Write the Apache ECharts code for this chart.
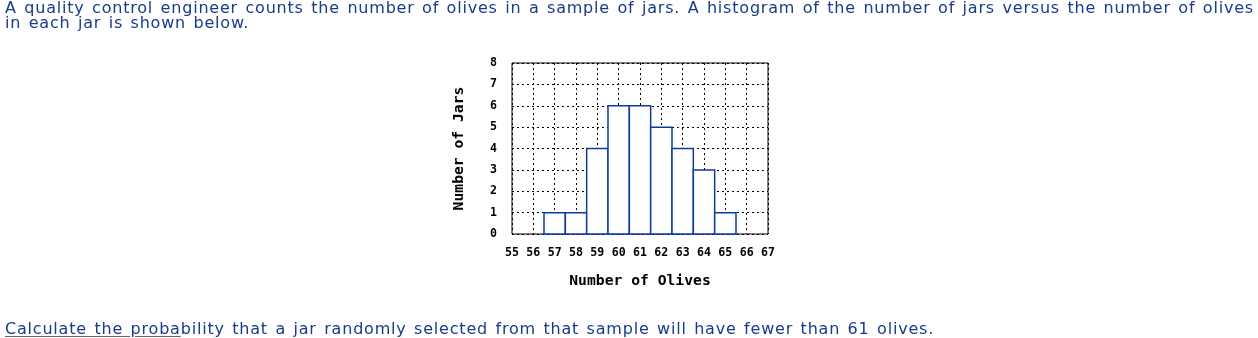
<!DOCTYPE html>
<html><head><meta charset="utf-8">
<script src="https://cdn.jsdelivr.net/npm/echarts@6/dist/echarts.min.js"></script>
<style>
html,body{margin:0;padding:0;background:#fff;}
#wrap{position:relative;width:1258px;height:338px;overflow:hidden;}
#c{position:absolute;left:0;top:0;width:1258px;height:338px;}
.txt{position:absolute;left:5px;font-family:"DejaVu Sans",sans-serif;font-size:16px;line-height:15px;color:#1a3a8a;letter-spacing:0.8px;word-spacing:1.6px;white-space:nowrap;}
#intro{top:0;}
#question{top:321px;}
#question .lnk{text-decoration:underline;text-decoration-color:#666;text-underline-offset:2px;}
</style>
</head><body><div id="wrap"><div id="c"></div><div id="intro" class="txt"></div><div id="question" class="txt"></div></div>
<script>
const olives = [57, 58, 59, 60, 61, 62, 63, 64, 65];
const jars = [1, 1, 4, 6, 6, 5, 4, 3, 1];
const xTicks = [55, 56, 57, 58, 59, 60, 61, 62, 63, 64, 65, 66, 67];
const yTicks = [0, 1, 2, 3, 4, 5, 6, 7, 8];
const introLines = ["A quality control engineer counts the number of olives in a sample of jars. A histogram of the number of jars versus the number of olives", "in each jar is shown below."];
const questionLink = "Calculate the proba";
const questionRest = "bility that a jar randomly selected from that sample will have fewer than 61 olives.";
const xName = "Number of Olives";
const yName = "Number of Jars";

const intro = document.getElementById('intro');
introLines.forEach((l, i) => {
  if (i) intro.appendChild(document.createElement('br'));
  intro.appendChild(document.createTextNode(l));
});
const q = document.getElementById('question');
const lnk = document.createElement('span');
lnk.className = 'lnk';
lnk.textContent = questionLink;
q.appendChild(lnk);
q.appendChild(document.createTextNode(questionRest));

const mono = 'DejaVu Sans Mono';
const chart = echarts.init(document.getElementById('c'));
chart.setOption({
  animation: false,
  grid: {left: 512, right: 490, top: 63, bottom: 104, show: true, borderColor: '#000', borderWidth: 1},
  xAxis: {
    type: 'value', min: xTicks[0], max: xTicks[xTicks.length - 1], interval: 1,
    name: xName, nameLocation: 'middle', nameGap: 40,
    nameTextStyle: {fontFamily: mono, fontWeight: 'bold', fontSize: 14.7, color: '#000'},
    axisLine: {show: false}, axisTick: {show: false},
    axisLabel: {fontFamily: mono, fontWeight: 'bold', fontSize: 11.6, color: '#000', margin: 13},
    splitLine: {show: true, lineStyle: {color: '#000', type: [2, 3], width: 1}}
  },
  yAxis: {
    type: 'value', min: yTicks[0], max: yTicks[yTicks.length - 1], interval: 1,
    name: yName, nameLocation: 'middle', nameGap: 45,
    nameTextStyle: {fontFamily: mono, fontWeight: 'bold', fontSize: 14.7, color: '#000'},
    axisLine: {show: false}, axisTick: {show: false},
    axisLabel: {fontFamily: mono, fontWeight: 'bold', fontSize: 11.6, color: '#000', margin: 15},
    splitLine: {show: true, lineStyle: {color: '#000', type: [2, 3], width: 1}}
  },
  series: [{
    type: 'custom',
    data: olives.map((x, i) => [x, jars[i]]),
    renderItem: function (params, api) {
      const x = api.value(0), y = api.value(1);
      const p0 = api.coord([x - 0.5, y]);
      const p1 = api.coord([x + 0.5, 0]);
      return {
        type: 'rect',
        shape: {x: p0[0], y: p0[1], width: p1[0] - p0[0], height: p1[1] - p0[1]},
        style: {fill: '#fff', stroke: '#0d3c9c', lineWidth: 1.5}
      };
    }
  }]
});
</script></body></html>
